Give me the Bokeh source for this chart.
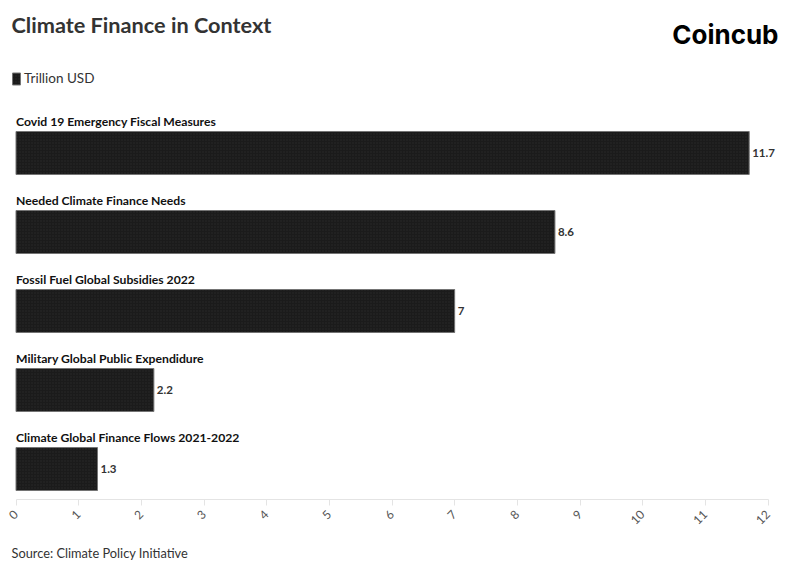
import math
from bokeh.plotting import figure
from bokeh.models import Range1d, Label, Legend, LegendItem, ColumnDataSource, FixedTicker, Title
from bokeh.core.properties import value
from bokeh.embed import file_html
from bokeh.resources import INLINE

categories = ["Covid 19 Emergency Fiscal Measures", "Needed Climate Finance Needs",
              "Fossil Fuel Global Subsidies 2022", "Military Global Public Expendidure",
              "Climate Global Finance Flows 2021-2022"]
values = [11.7, 8.6, 7, 2.2, 1.3]
value_labels = ["11.7", "8.6", "7", "2.2", "1.3"]
x_ticks = list(range(0, 13))

FONT = "Lato"
pos = list(range(len(categories)))
src = ColumnDataSource(dict(y=pos, v=values, cat=categories, vl=value_labels, zero=[0]*len(pos)))

PX = 752 / 12.0   # pixels per unit along x
ROW = 79.0        # pixels per row
p = figure(width=796, height=575, output_backend="svg", toolbar_location=None,
           x_range=Range1d(-15.5 / PX, 12 + 28.5 / PX),
           y_range=Range1d(4.386, -152.5 / ROW),
           min_border_left=0, min_border_right=0, min_border_top=0, min_border_bottom=76)
p.outline_line_color = None
p.grid.visible = False
p.yaxis.visible = False
p.background_fill_color = "white"

bars = p.hbar(y="y", right="v", left=0, height=0.544, source=src,
              fill_color="#1b1b1b", line_color="#747474", line_width=1,
              hatch_pattern="dot", hatch_color="#2a2a2a", hatch_scale=3, hatch_weight=1)

p.text(x="zero", y="y", text="cat", source=src, y_offset=-31.5, text_baseline="middle",
       text_align="left", text_font=value(FONT), text_font_style="bold",
       text_font_size="12.2px", text_color="#111111")
p.text(x="v", y="y", text="vl", source=src, x_offset=3, text_baseline="middle",
       text_align="left", text_font=value(FONT), text_font_style="bold",
       text_font_size="11.5px", text_color="#333333")

ax = p.xaxis[0]
ax.ticker = FixedTicker(ticks=x_ticks)
ax.bounds = (0, 12)
ax.axis_line_color = "#e4e4e4"
ax.major_tick_line_color = "#e4e4e4"
ax.minor_tick_line_color = None
ax.major_tick_out = 6
ax.major_tick_in = 0
ax.major_label_orientation = math.pi / 4
ax.major_label_text_font = FONT
ax.major_label_text_font_size = "12px"
ax.major_label_text_color = "#555555"
ax.major_label_standoff = 7

p.add_layout(Label(x=11, y=475, x_units="screen", y_units="screen", text="Climate Finance in Context",
                   text_font=FONT, text_font_style="bold", text_font_size="21.7px",
                   text_color="#333333", text_baseline="middle"))
p.add_layout(Label(x=778, y=465, x_units="screen", y_units="screen", text="Coincub",
                   text_font="Inter", text_font_style="bold", text_font_size="26px",
                   text_color="#000000", text_baseline="middle", text_align="right"))

legend = Legend(items=[LegendItem(label="Trillion USD", renderers=[bars])], location=(11, 413),
                glyph_width=10, glyph_height=15, label_height=15, label_standoff=3,
                padding=0, margin=0, border_line_color=None, background_fill_alpha=0,
                label_text_font=FONT, label_text_font_size="13.5px", label_text_color="#333333")
p.add_layout(legend)

p.add_layout(Title(text="Source: Climate Policy Initiative", align="left", offset=11, standoff=24,
                   text_font=FONT, text_font_style="normal", text_font_size="12.8px",
                   text_color="#333333"), "below")

open("out.html", "w").write(file_html(p, INLINE))
